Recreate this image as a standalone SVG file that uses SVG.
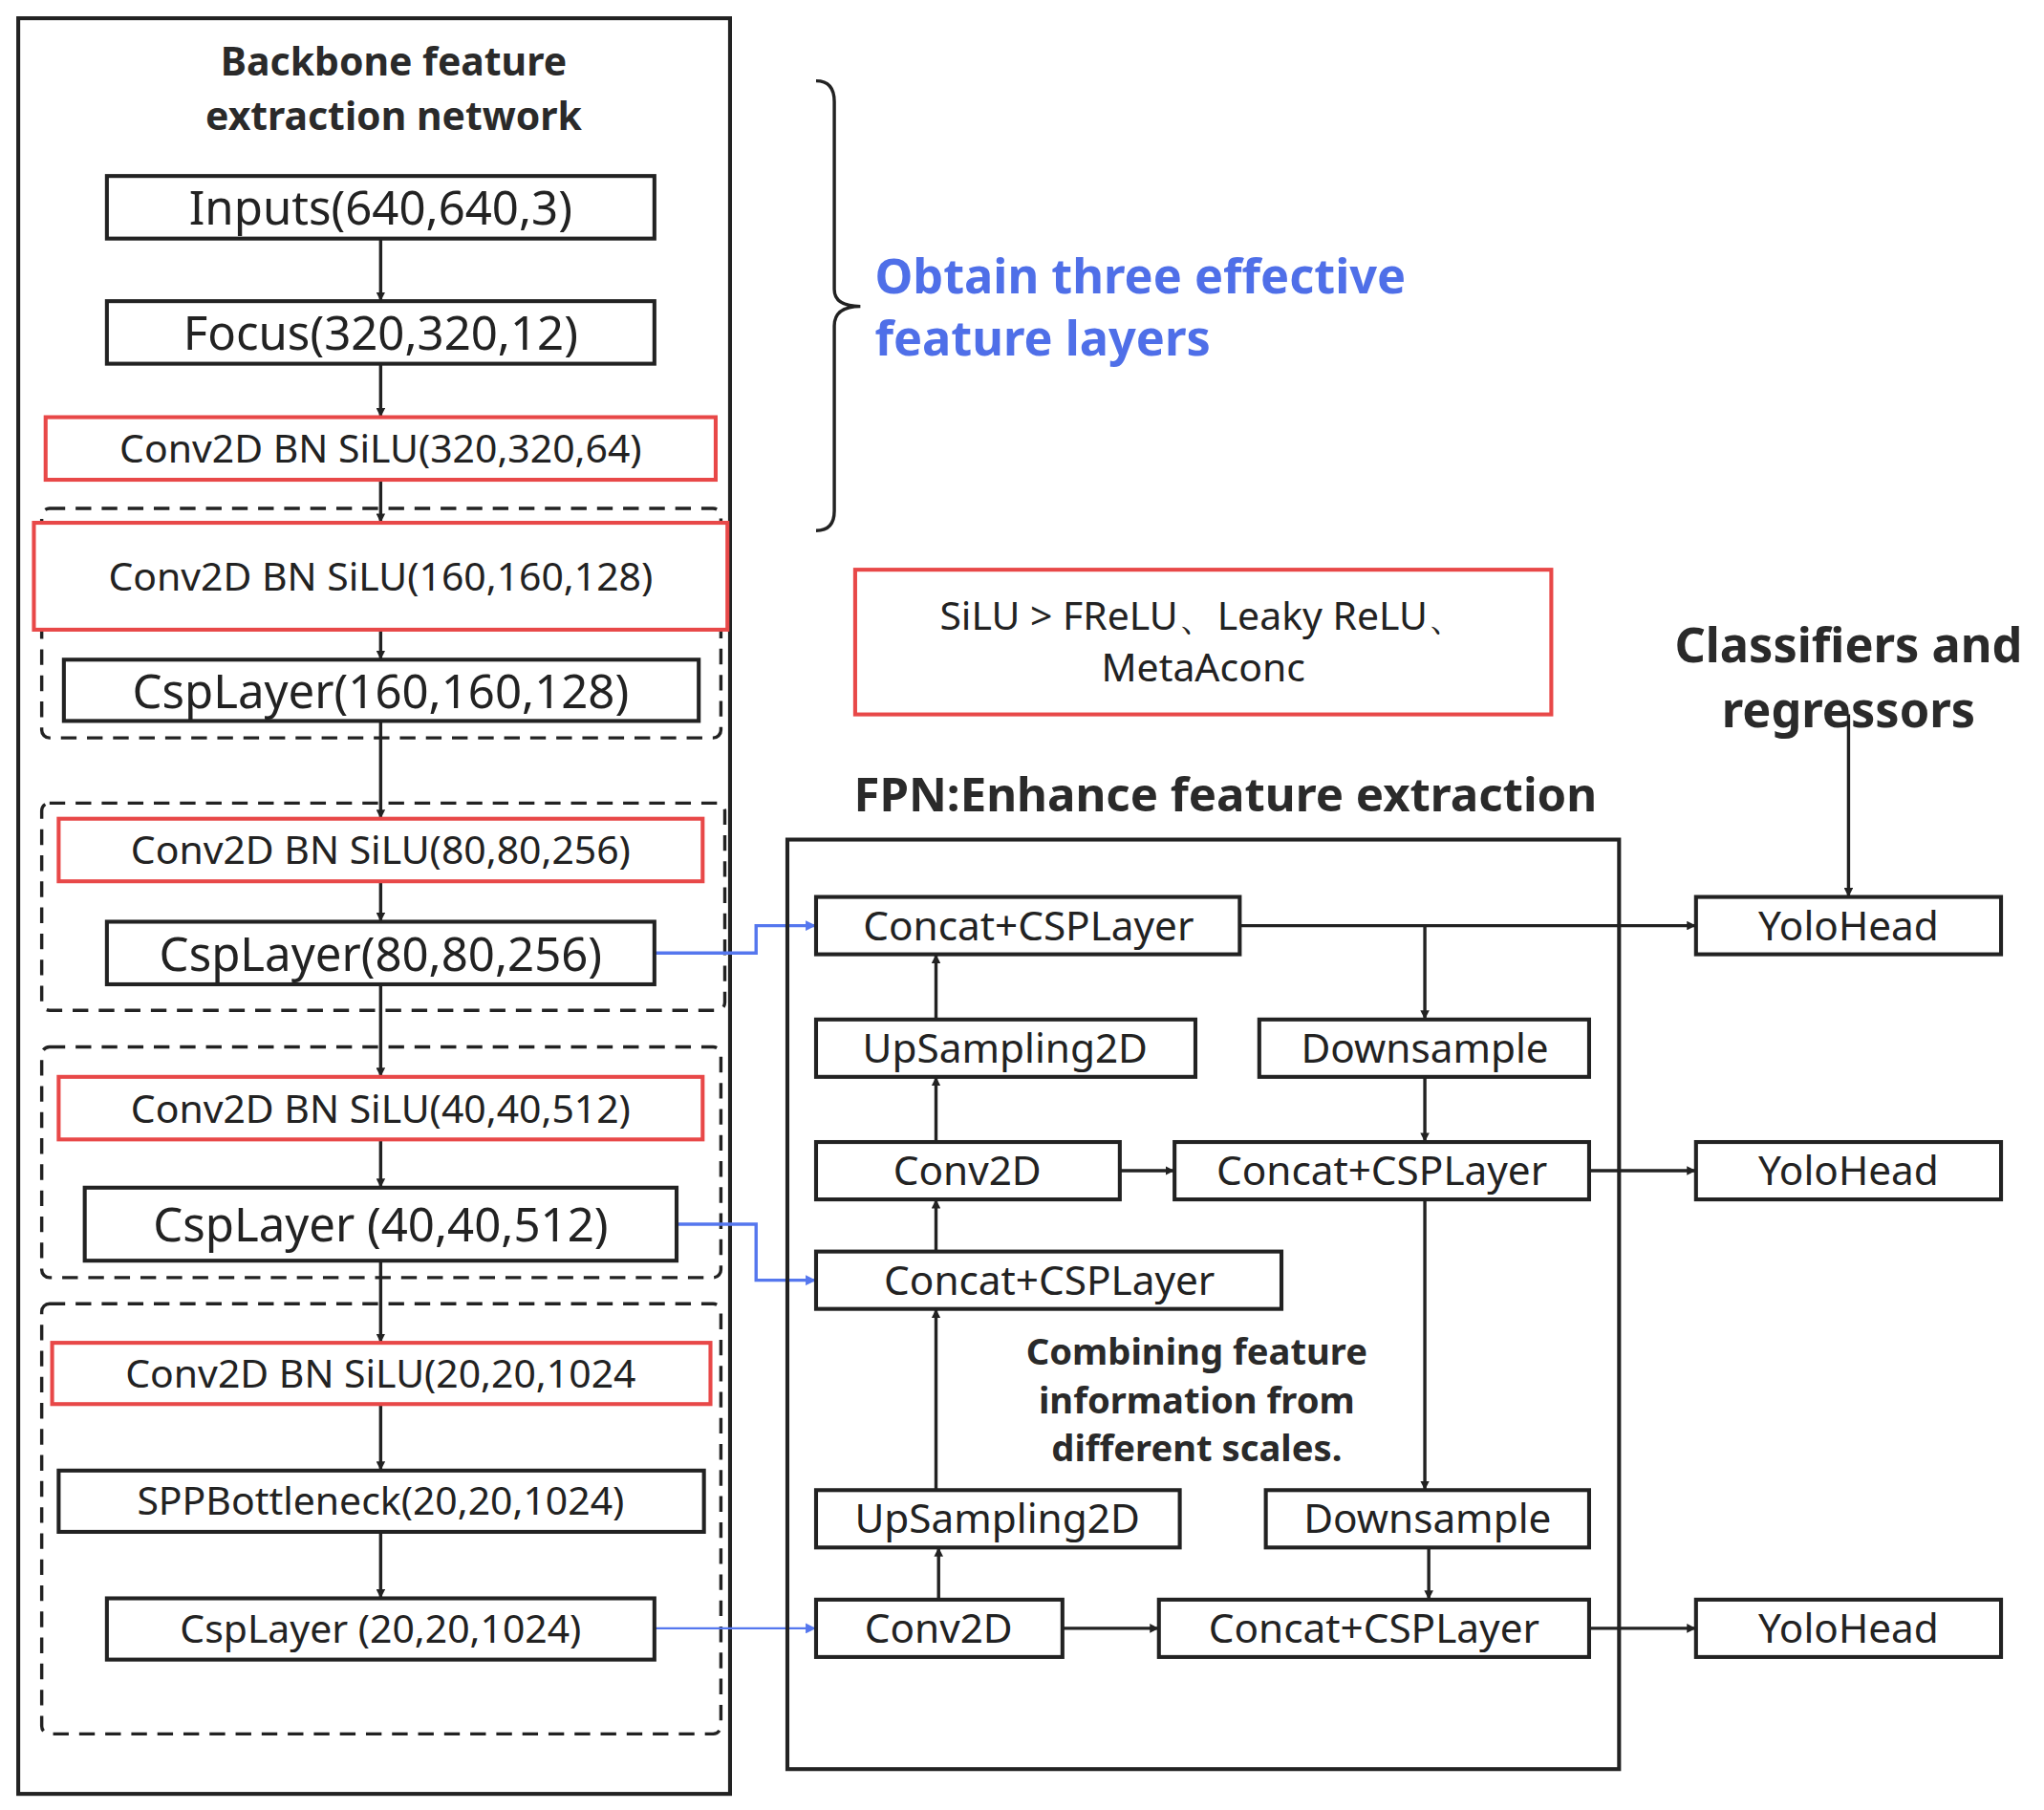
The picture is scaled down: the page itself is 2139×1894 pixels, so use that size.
<svg xmlns="http://www.w3.org/2000/svg" width="2139" height="1894" viewBox="0 0 2139 1894">
<defs>
<style>
.b{fill:#fff;stroke:#222;stroke-width:3}
.r{fill:#fff;stroke:#e84848;stroke-width:3}
.d{fill:none;stroke:#222;stroke-width:2.5;stroke-dasharray:12 8}
.t{font-family:"Noto Sans","Open Sans",sans-serif;fill:#222;text-anchor:middle}
.h{font-family:"Noto Sans","Open Sans",sans-serif;font-weight:bold;fill:#2a2a2a;text-anchor:middle}
.c line,.c polyline{stroke:#222;stroke-width:2.5;fill:none;marker-end:url(#a)}
.c .bl{stroke:#5577ee;marker-end:url(#ab)}
</style>
<marker id="a" viewBox="0 0 10 10" refX="10" refY="5" markerWidth="7" markerHeight="7" markerUnits="userSpaceOnUse" orient="auto"><path d="M0,0L10,5L0,10z" fill="#222"/></marker>
<marker id="ab" viewBox="0 0 10 10" refX="10" refY="5" markerWidth="8" markerHeight="8" markerUnits="userSpaceOnUse" orient="auto"><path d="M0,0L10,5L0,10z" fill="#5577ee"/></marker>
</defs>
<rect width="2139" height="1894" fill="#fff"/>
<g transform="scale(1.3642)">
<g id="backbone">
<rect x="14" y="14" width="546" height="1362" fill="none" stroke="#222" stroke-width="3"/>
<text class="h" x="302" y="58" font-size="30">Backbone    feature</text>
<text class="h" x="302" y="100" font-size="30">extraction network</text>
<rect class="d" x="32" y="390" width="521" height="176" rx="6"/>
<rect class="d" x="32" y="616" width="524" height="159" rx="6"/>
<rect class="d" x="32" y="803" width="521" height="177" rx="6"/>
<rect class="d" x="32" y="1000" width="521" height="330" rx="6"/>
</g>
<g class="c" id="connectors">
<line x1="292" y1="183" x2="292" y2="231"/>
<line x1="292" y1="279" x2="292" y2="320"/>
<line x1="292" y1="368" x2="292" y2="401"/>
<line x1="292" y1="483" x2="292" y2="506"/>
<line x1="292" y1="553" x2="292" y2="628"/>
<line x1="292" y1="676" x2="292" y2="707"/>
<line x1="292" y1="755" x2="292" y2="826"/>
<line x1="292" y1="874" x2="292" y2="911"/>
<line x1="292" y1="967" x2="292" y2="1030"/>
<line x1="292" y1="1077" x2="292" y2="1128"/>
<line x1="292" y1="1175" x2="292" y2="1226"/>
<polyline class="bl" points="502,731 580,731 580,710 626,710"/>
<polyline class="bl" points="519,939 580,939 580,982 626,982"/>
<line class="bl" x1="502" y1="1249" x2="626" y2="1249" style="stroke-width:1.8"/>
<line x1="718" y1="782" x2="718" y2="732"/>
<line x1="718" y1="876" x2="718" y2="826"/>
<line x1="718" y1="960" x2="718" y2="920"/>
<line x1="718" y1="1143" x2="718" y2="1004"/>
<line x1="720" y1="1227" x2="720" y2="1187"/>
<line x1="815" y1="1249" x2="889" y2="1249"/>
<line x1="859" y1="898" x2="901" y2="898"/>
<line x1="951" y1="710" x2="1301" y2="710"/>
<polyline points="1093,710 1093,782"/>
<line x1="1093" y1="826" x2="1093" y2="876"/>
<line x1="1219" y1="898" x2="1301" y2="898"/>
<line x1="1093" y1="920" x2="1093" y2="1143"/>
<line x1="1096" y1="1187" x2="1096" y2="1227"/>
<line x1="1219" y1="1249" x2="1301" y2="1249"/>
<line x1="1418" y1="548" x2="1418" y2="688"/>
</g>
<g id="inputs"><rect class="b" x="82" y="135" width="420" height="48"/><text class="t" x="292" y="172" font-size="36">Inputs(640,640,3)</text></g>
<g id="focus"><rect class="b" x="82" y="231" width="420" height="48"/><text class="t" x="292" y="268" font-size="36">Focus(320,320,12)</text></g>
<g id="conv320"><rect class="r" x="35" y="320" width="514" height="48"/><text class="t" x="292" y="355" font-size="30">Conv2D  BN  SiLU(320,320,64)</text></g>
<g id="conv160"><rect class="r" x="26" y="401" width="532" height="82"/><text class="t" x="292" y="453" font-size="30">Conv2D  BN  SiLU(160,160,128)</text></g>
<g id="csp160"><rect class="b" x="49" y="506" width="487" height="47"/><text class="t" x="292" y="543" font-size="36">CspLayer(160,160,128)</text></g>
<g id="conv80"><rect class="r" x="45" y="628" width="494" height="48"/><text class="t" x="292" y="663" font-size="30">Conv2D  BN  SiLU(80,80,256)</text></g>
<g id="csp80"><rect class="b" x="82" y="707" width="420" height="48"/><text class="t" x="292" y="745" font-size="36">CspLayer(80,80,256)</text></g>
<g id="conv40"><rect class="r" x="45" y="826" width="494" height="48"/><text class="t" x="292" y="861" font-size="30">Conv2D  BN  SiLU(40,40,512)</text></g>
<g id="csp40"><rect class="b" x="65" y="911" width="454" height="56"/><text class="t" x="292" y="952" font-size="36">CspLayer  (40,40,512)</text></g>
<g id="conv20"><rect class="r" x="40" y="1030" width="505" height="47"/><text class="t" x="292" y="1064" font-size="30">Conv2D  BN  SiLU(20,20,1024</text></g>
<g id="spp"><rect class="b" x="45" y="1128" width="495" height="47"/><text class="t" x="292" y="1162" font-size="30">SPPBottleneck(20,20,1024)</text></g>
<g id="csp20"><rect class="b" x="82" y="1226" width="420" height="47"/><text class="t" x="292" y="1260" font-size="30">CspLayer  (20,20,1024)</text></g>
<g id="brace"><path d="M626,62 Q640,62 640,78 L640,222 Q640,235 660,235 Q640,235 640,250 L640,392 Q640,407 626,407" fill="none" stroke="#222" stroke-width="2.5"/>
<text x="671" y="225" font-family="Noto Sans,sans-serif" font-weight="bold" font-size="37" fill="#4f6fe8">Obtain three effective</text>
<text x="671" y="273" font-family="Noto Sans,sans-serif" font-weight="bold" font-size="37" fill="#4f6fe8">feature layers</text></g>
<g id="note"><rect class="r" x="656" y="437" width="534" height="111"/><text class="t" x="923" y="483" font-size="30">SiLU &gt; FReLU、Leaky ReLU、</text><text class="t" x="923" y="523" font-size="30">MetaAconc</text></g>
<g id="classifiers"><text class="h" x="1418" y="508" font-size="37">Classifiers and</text><text class="h" x="1418" y="558" font-size="37">regressors</text></g>
<g id="fpn"><text class="h" x="940" y="622" font-size="36">FPN:Enhance feature extraction</text><rect x="604" y="644" width="638" height="713" fill="none" stroke="#222" stroke-width="3"/>
<text class="h" x="918" y="1047" font-size="28">Combining feature</text><text class="h" x="918" y="1084" font-size="28">information from</text><text class="h" x="918" y="1121" font-size="28">different scales.</text></g>
<g id="concat1"><rect class="b" x="626" y="688" width="325" height="44"/><text class="t" x="789" y="721" font-size="31">Concat+CSPLayer</text></g>
<g id="up1"><rect class="b" x="626" y="782" width="291" height="44"/><text class="t" x="771" y="815" font-size="31">UpSampling2D</text></g>
<g id="down1"><rect class="b" x="966" y="782" width="253" height="44"/><text class="t" x="1093" y="815" font-size="31">Downsample</text></g>
<g id="conv2d1"><rect class="b" x="626" y="876" width="233" height="44"/><text class="t" x="742" y="909" font-size="31">Conv2D</text></g>
<g id="concat2"><rect class="b" x="901" y="876" width="318" height="44"/><text class="t" x="1060" y="909" font-size="31">Concat+CSPLayer</text></g>
<g id="concat3"><rect class="b" x="626" y="960" width="357" height="44"/><text class="t" x="805" y="993" font-size="31">Concat+CSPLayer</text></g>
<g id="up2"><rect class="b" x="626" y="1143" width="279" height="44"/><text class="t" x="765" y="1176" font-size="31">UpSampling2D</text></g>
<g id="down2"><rect class="b" x="971" y="1143" width="248" height="44"/><text class="t" x="1095" y="1176" font-size="31">Downsample</text></g>
<g id="conv2d2"><rect class="b" x="626" y="1227" width="189" height="44"/><text class="t" x="720" y="1260" font-size="31">Conv2D</text></g>
<g id="concat4"><rect class="b" x="889" y="1227" width="330" height="44"/><text class="t" x="1054" y="1260" font-size="31">Concat+CSPLayer</text></g>
<g id="yolo1"><rect class="b" x="1301" y="688" width="234" height="44"/><text class="t" x="1418" y="721" font-size="31">YoloHead</text></g>
<g id="yolo2"><rect class="b" x="1301" y="876" width="234" height="44"/><text class="t" x="1418" y="909" font-size="31">YoloHead</text></g>
<g id="yolo3"><rect class="b" x="1301" y="1227" width="234" height="44"/><text class="t" x="1418" y="1260" font-size="31">YoloHead</text></g>
</g>
</svg>
